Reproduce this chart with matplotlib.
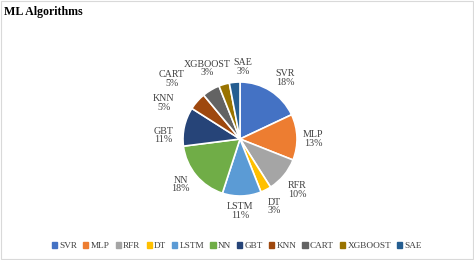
import numpy as np
import matplotlib
matplotlib.use("Agg")
import matplotlib.pyplot as plt
from matplotlib.patches import Rectangle

# data
labels = ["SVR", "MLP", "RFR", "DT", "LSTM", "NN", "GBT", "KNN", "CART", "XGBOOST", "SAE"]
shares = [18, 13, 10, 3, 11, 18, 11, 5, 5, 3, 3]
colors = ["#4472C4", "#ED7D31", "#A5A5A5", "#FFC000", "#5B9BD5", "#70AD47",
          "#264478", "#9E480E", "#636363", "#997300", "#255E91"]

# label layout: (angle shift in degrees, radial distance) per wedge
label_shift = [-4, -2, -2, 0, -2, -2, 10, 16, 18, 9, -8]
label_dist = [1.33, 1.28, 1.35, 1.33, 1.26, 1.31, 1.35, 1.48, 1.6, 1.37, 1.26]

plt.rcParams['font.family'] = ['Liberation Serif', 'DejaVu Serif']

W, H = 474, 260
fig = plt.figure(figsize=(W / 100, H / 100), dpi=100)

# pie center / radius in pixels
cx, cy, r = 240, 139, 57
ax = fig.add_axes([(cx - r) / W, (H - cy - r) / H, 2 * r / W, 2 * r / H])

wedges, _ = ax.pie(shares, colors=colors, startangle=90, counterclock=False,
                   wedgeprops=dict(edgecolor="white", linewidth=1.2))
for w, lab, s, da, d in zip(wedges, labels, shares, label_shift, label_dist):
    ang = np.deg2rad((w.theta1 + w.theta2) / 2 + da)
    ax.text(d * np.cos(ang), d * np.sin(ang), f"{lab}\n{s}%", ha="center", va="center",
            fontsize=7.2, color="#404040", linespacing=0.95)
ax.set_xlim(-1, 1)
ax.set_ylim(-1, 1)
ax.set_aspect("equal")

fig.text(4 / W, 1 - 12 / H, "ML Algorithms", fontsize=8.6, fontweight="bold",
         va="center", ha="left", color="black")

handles = [Rectangle((0, 0), 1, 1, color=c) for c in colors]
fig.legend(handles, labels, loc="center", bbox_to_anchor=(0.5, 1 - 246 / H),
           ncol=len(labels), frameon=False, fontsize=6.7,
           handlelength=0.55, handleheight=0.55, handletextpad=0.25,
           columnspacing=0.65, labelcolor="#404040")

# chart border
fig.patches.append(Rectangle((0.002, 0.004), 0.996, 0.994, transform=fig.transFigure,
                             fill=False, edgecolor="#D9D9D9", linewidth=0.8))

fig.savefig("out.png", dpi=100, facecolor="white")
